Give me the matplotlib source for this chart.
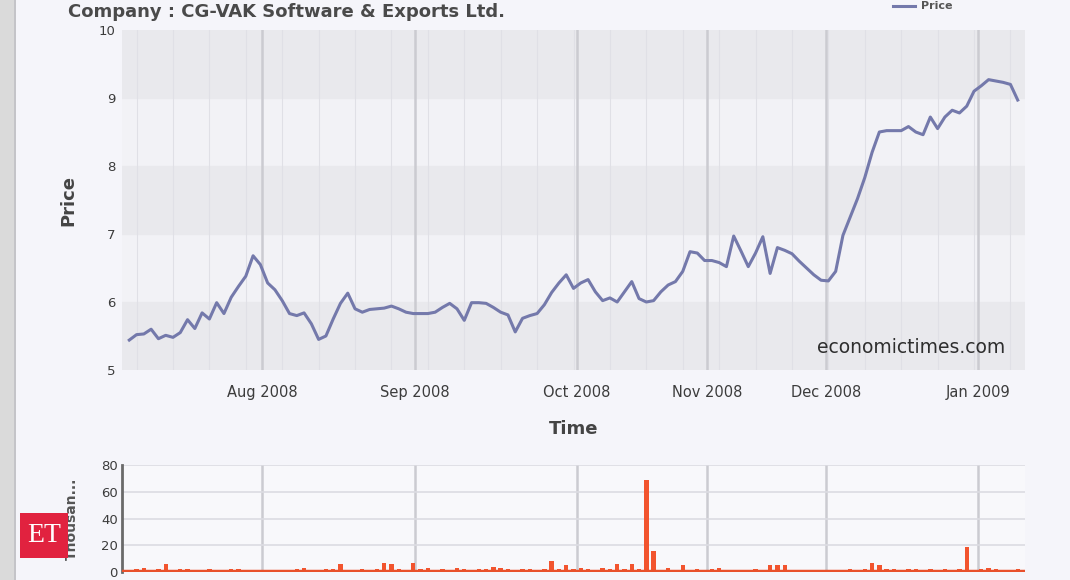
import numpy as np
import matplotlib
matplotlib.use("Agg")
import matplotlib.pyplot as plt
from matplotlib.patches import Rectangle
from matplotlib.lines import Line2D

# trading-day index 1..123 (mid Jul 2008 -> early Jan 2009)
price = [
    5.44, 5.52, 5.53, 5.60, 5.46, 5.51, 5.48, 5.55, 5.74, 5.61,
    5.84, 5.75, 5.99, 5.83, 6.07, 6.23, 6.38, 6.68, 6.55, 6.28,
    6.18, 6.02, 5.83, 5.80, 5.84, 5.68, 5.45, 5.50, 5.75, 5.98,
    6.13, 5.90, 5.85, 5.89, 5.90, 5.91, 5.94, 5.90, 5.85, 5.83,
    5.83, 5.83, 5.85, 5.92, 5.98, 5.90, 5.73, 5.99, 5.99, 5.98,
    5.92, 5.85, 5.81, 5.56, 5.76, 5.80, 5.83, 5.96, 6.14, 6.28,
    6.40, 6.20, 6.28, 6.33, 6.15, 6.02, 6.06, 6.00, 6.15, 6.30,
    6.05, 6.00, 6.02, 6.15, 6.25, 6.30, 6.45, 6.74, 6.72, 6.61,
    6.61, 6.58, 6.52, 6.97, 6.75, 6.52, 6.72, 6.96, 6.42, 6.80,
    6.76, 6.71, 6.60, 6.50, 6.40, 6.32, 6.31, 6.45, 6.98, 7.25,
    7.52, 7.83, 8.20, 8.50, 8.52, 8.52, 8.52, 8.58, 8.50, 8.46,
    8.72, 8.55, 8.72, 8.82, 8.78, 8.88, 9.10, 9.18, 9.27, 9.25,
    9.23, 9.20, 8.97,
]
volume = [
    1, 2, 3, 1, 2, 6, 1, 2, 2, 1,
    1, 2, 1, 1, 2, 2, 1, 1, 1, 1,
    1, 1, 1, 2, 3, 1, 1, 2, 2, 6,
    1, 1, 2, 1, 2, 7, 6, 2, 1, 7,
    2, 3, 1, 2, 1, 3, 2, 1, 2, 2,
    4, 3, 2, 1, 2, 2, 1, 2, 8, 2,
    5, 2, 3, 2, 1, 3, 2, 6, 2, 6,
    2, 69, 16, 1, 3, 1, 5, 1, 2, 1,
    2, 3, 1, 1, 1, 1, 2, 1, 5, 5,
    5, 1, 1, 1, 1, 1, 1, 1, 1, 2,
    1, 2, 7, 5, 2, 2, 1, 2, 2, 1,
    2, 1, 2, 1, 2, 19, 1, 2, 3, 2,
    1, 1, 2,
]
days = np.arange(1, len(price) + 1)

month_pos = [19.2, 40.2, 62.5, 80.4, 96.7, 117.6]
month_labels = ["Aug 2008", "Sep 2008", "Oct 2008", "Nov 2008", "Dec 2008", "Jan 2009"]

plt.rcParams['font.family'] = ['DejaVu Sans']

fig = plt.figure(figsize=(10.7, 5.8), dpi=100)
fig.patch.set_facecolor('#f5f5fa')

# left border strip of the screenshot
fig.patches.append(Rectangle((0, 0), 14 / 1070, 1, transform=fig.transFigure,
                             facecolor='#dadada', edgecolor='none', zorder=0))
fig.patches.append(Rectangle((14 / 1070, 0), 2 / 1070, 1, transform=fig.transFigure,
                             facecolor='#c4c4c8', edgecolor='none', zorder=0))

# price panel
ax = fig.add_axes([122 / 1070, 1 - 370 / 580, 903 / 1070, 340 / 580])
ax.set_facecolor('#f2f2f6')
for lo in [5, 7, 9]:
    ax.axhspan(lo, lo + 1, color='#e9e9ed', zorder=0)
ax.set_xlim(0, 124)
ax.set_ylim(5, 10)
ax.set_xticks(month_pos)
ax.set_xticklabels(month_labels)
ax.set_xticks(np.arange(2, 124, 5), minor=True)
ax.set_yticks(range(5, 11))
ax.grid(True, which='major', axis='x', color='#cbcbd1', lw=1.8, zorder=1)
ax.grid(True, which='minor', axis='x', color='#e0e0e6', lw=0.8, zorder=1)
ax.tick_params(axis='both', which='both', length=0, colors='#3c3c3c')
ax.tick_params(axis='x', pad=11, labelsize=10.5)
ax.tick_params(axis='y', pad=5, labelsize=9.5)
for s in ax.spines.values():
    s.set_visible(False)
ax.plot(days, price, color='#7479ab', lw=2.2, zorder=3, solid_joinstyle='round')
ax.set_xlabel("Time", fontsize=13, fontweight='bold', color='#444444', labelpad=14)
ax.set_ylabel("Price", fontsize=13, fontweight='bold', color='#444444', labelpad=15)
ax.text(0.978, 0.065, "economictimes.com", transform=ax.transAxes, ha='right', va='center',
        fontsize=13.5, color='#2e2e2e')

fig.text(68 / 1070, 1 - 12 / 580, "Company : CG-VAK Software & Exports Ltd.",
         fontsize=13, fontweight='bold', color='#4a4a4a', ha='left', va='center')

# legend at the top right
fig.add_artist(Line2D([893 / 1070, 915 / 1070], [1 - 6 / 580, 1 - 6 / 580],
                      transform=fig.transFigure, color='#7479ab', lw=2.2))
fig.text(921 / 1070, 1 - 6 / 580, "Price", fontsize=8, fontweight='bold',
         color='#555555', ha='left', va='center')

# volume panel
axv = fig.add_axes([122 / 1070, 1 - 572 / 580, 903 / 1070, 107 / 580])
axv.set_facecolor('#f8f8fb')
axv.set_xlim(0, 124)
axv.set_ylim(0, 80)
axv.set_yticks([0, 20, 40, 60, 80])
axv.set_xticks(month_pos)
axv.set_xticklabels([])
axv.grid(True, axis='y', color='#dcdce2', lw=1.2, zorder=0)
axv.grid(True, axis='x', color='#cbcbd1', lw=1.8, zorder=0)
axv.tick_params(axis='both', length=0, colors='#3c3c3c', labelsize=9.5, pad=3)
for k, s in axv.spines.items():
    s.set_visible(k == 'left')
axv.spines['left'].set_color('#6a6a6a')
axv.spines['left'].set_linewidth(2)
axv.bar(days, volume, width=0.6, color='#f2542e', zorder=3)
axv.axhline(0.6, color='#e8502c', lw=2.5, zorder=3)
axv.set_ylabel("Thousan...", fontsize=10, fontweight='bold', color='#555555', labelpad=16)

# ET logo
fig.patches.append(Rectangle((20 / 1070, 1 - 558 / 580), 48 / 1070, 45 / 580,
                             transform=fig.transFigure, facecolor='#e1223f',
                             edgecolor='none', zorder=5))
fig.text(44 / 1070, 1 - 536 / 580, "ET", fontsize=20, color='white', family='Liberation Serif',
         ha='center', va='center', zorder=6)

fig.savefig("out.png", dpi=100, facecolor=fig.get_facecolor())
